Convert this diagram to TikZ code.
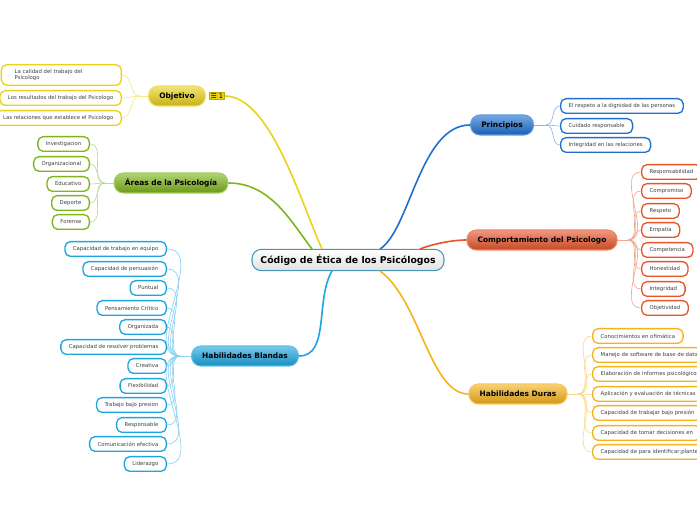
\documentclass[tikz,border=0pt]{standalone}
\usepackage{fontspec}
\setmainfont{DejaVu Sans}
\newfontfamily\symf{DejaVu Sans}
\begin{document}
\begin{tikzpicture}[x=0.75pt,y=-0.75pt,
  leaf/.style={draw=#1,line width=1pt,rounded corners=4pt,fill=white,font=\fontsize{4}{4.8}\selectfont,text=black!75,inner xsep=6pt,minimum height=11pt},
  branch/.style={draw=#1!70!white,line width=0.8pt,rounded corners=7pt,top color=#1!60!white,bottom color=#1!85!black,font=\bfseries\fontsize{5.6}{6}\selectfont,minimum height=15pt,inner xsep=8pt},
  con/.style={draw=#1!50!white,line width=0.5pt},
  main/.style={draw=#1,line width=1.2pt}]
\useasboundingbox (0,0) rectangle (697,520);
\definecolor{cy}{HTML}{E8D21A}\definecolor{cg}{HTML}{7DB51B}\definecolor{cb}{HTML}{1CA6E0}
\definecolor{cp}{HTML}{1E6FD0}\definecolor{cr}{HTML}{E8542A}\definecolor{co}{HTML}{F5B21A}
% central
\node[draw=cb!60!gray,line width=0.8pt,rounded corners=7pt,top color=white,bottom color=black!12,font=\bfseries\fontsize{7}{8}\selectfont,minimum width=144pt,minimum height=16pt] (c) at (348,260) {Código de Ética de los Psicólogos};
% branches
\node[branch=cy,minimum width=40pt] (obj) at (177,96) {Objetivo};
\node[draw=cy!80!black,fill=cy,inner sep=1pt,font=\symf\fontsize{5}{5}\selectfont] (icon) at (217,96) {☰ 1};
\node[branch=cg,minimum width=80pt] (are) at (171,183) {Áreas de la Psicología};
\node[branch=cb,minimum width=76pt] (bla) at (245,356) {Habilidades Blandas};
\node[branch=cp,minimum width=46pt] (pri) at (502,125) {Principios};
\node[branch=cr,minimum width=106pt] (com) at (542,240) {Comportamiento del Psicologo};
\node[branch=co,minimum width=70pt] (dur) at (518,394) {Habilidades Duras};
% main connectors
\draw[main=cy] (icon.east) .. controls (270,96) and (300,200) .. (322,249);
\draw[main=cg] (are.east) .. controls (270,183) and (290,220) .. (312,249);
\draw[main=cb] (bla.east) .. controls (330,356) and (315,300) .. (332,271);
\draw[main=cp] (pri.west) .. controls (420,125) and (410,230) .. (380,249);
\draw[main=cr] (com.west) .. controls (450,240) and (430,245) .. (420,249);
\draw[main=co] (dur.west) .. controls (430,394) and (420,300) .. (380,271);
% Objetivo leaves
\coordinate (ho) at (140,96);
\draw[con=cy] (obj.west) -- (ho);
\node[leaf=cy,anchor=east,minimum width=90pt,align=left,text width=70pt] (o1) at (122,75) {La calidad del trabajo del\\Psicologo};
\node[leaf=cy,anchor=east] (o2) at (122,98) {Los resultados del trabajo del Psicologo};
\node[leaf=cy,anchor=east] (o3) at (122,118) {Las relaciones que establece el Psicologo};
\foreach \n in {o1,o2,o3} \draw[con=cy] (ho) to[out=180,in=0] (\n.east);
% Areas leaves
\coordinate (ha) at (105,183);
\draw[con=cg] (are.west) -- (ha);
\foreach \n/\t/\y in {a1/Investigacion/144,a2/Organizacional/164,a3/Educativo/184,a4/Deporte/203,a5/Forense/222}{
  \node[leaf=cg,anchor=east] (\n) at (90,\y) {\t};
  \draw[con=cg] (ha) to[out=180,in=0] (\n.east);}
% Blandas leaves
\coordinate (hb) at (180,356);
\draw[con=cb] (bla.west) -- (hb);
\foreach \n/\t/\y in {b1/Capacidad de trabajo en equipo/249,b2/Capacidad de persuasión/269,b3/Puntual/288,b4/Pensamiento Crítico/308,b5/Organizada/327,b6/Capacidad de resolver problemas/347,b7/Creativa/366,b8/Flexibilidad/386,b9/Trabajo bajo presion/405,b10/Responsable/425,b11/Comunicación efectiva/444,b12/Liderazgo/464}{
  \node[leaf=cb,anchor=east] (\n) at (167,\y) {\t};
  \draw[con=cb] (hb) to[out=180,in=0] (\n.east);}
% Principios leaves
\coordinate (hp) at (546,125);
\draw[con=cp] (pri.east) -- (hp);
\foreach \n/\t/\y in {p1/El respeto a la dignidad de las personas/106,p2/Cuidado responsable/126,p3/Integridad en las relaciones/145}{
  \node[leaf=cp,anchor=west] (\n) at (560,\y) {\t};
  \draw[con=cp] (hp) to[out=0,in=180] (\n.west);}
% Comportamiento leaves
\coordinate (hc) at (628,240);
\draw[con=cr] (com.east) -- (hc);
\foreach \n/\t/\y in {r1/Responsabilidad/172,r2/Compromiso/191,r3/Respeto/211,r4/Empatía/230,r5/Competencia/250,r6/Honestidad/269,r7/Integridad/289,r8/Objetividad/308}{
  \node[leaf=cr,anchor=west] (\n) at (641,\y) {\t};
  \draw[con=cr] (hc) to[out=0,in=180] (\n.west);}
% Duras leaves
\coordinate (hd) at (578,394);
\draw[con=co] (dur.east) -- (hd);
\foreach \n/\t/\y in {d1/Conocimientos en ofimática/336,d2/Manejo de software de base de datos/355,d3/Elaboración de informes psicológicos/374,d4/Aplicación y evaluación de técnicas/394,d5/Capacidad de trabajar bajo presión/413,d6/Capacidad de tomar decisiones en/433,d7/Capacidad de para identificar;plantear/452}{
  \node[leaf=co,anchor=west] (\n) at (592,\y) {\t};
  \draw[con=co] (hd) to[out=0,in=180] (\n.west);}
\end{tikzpicture}
\end{document}
